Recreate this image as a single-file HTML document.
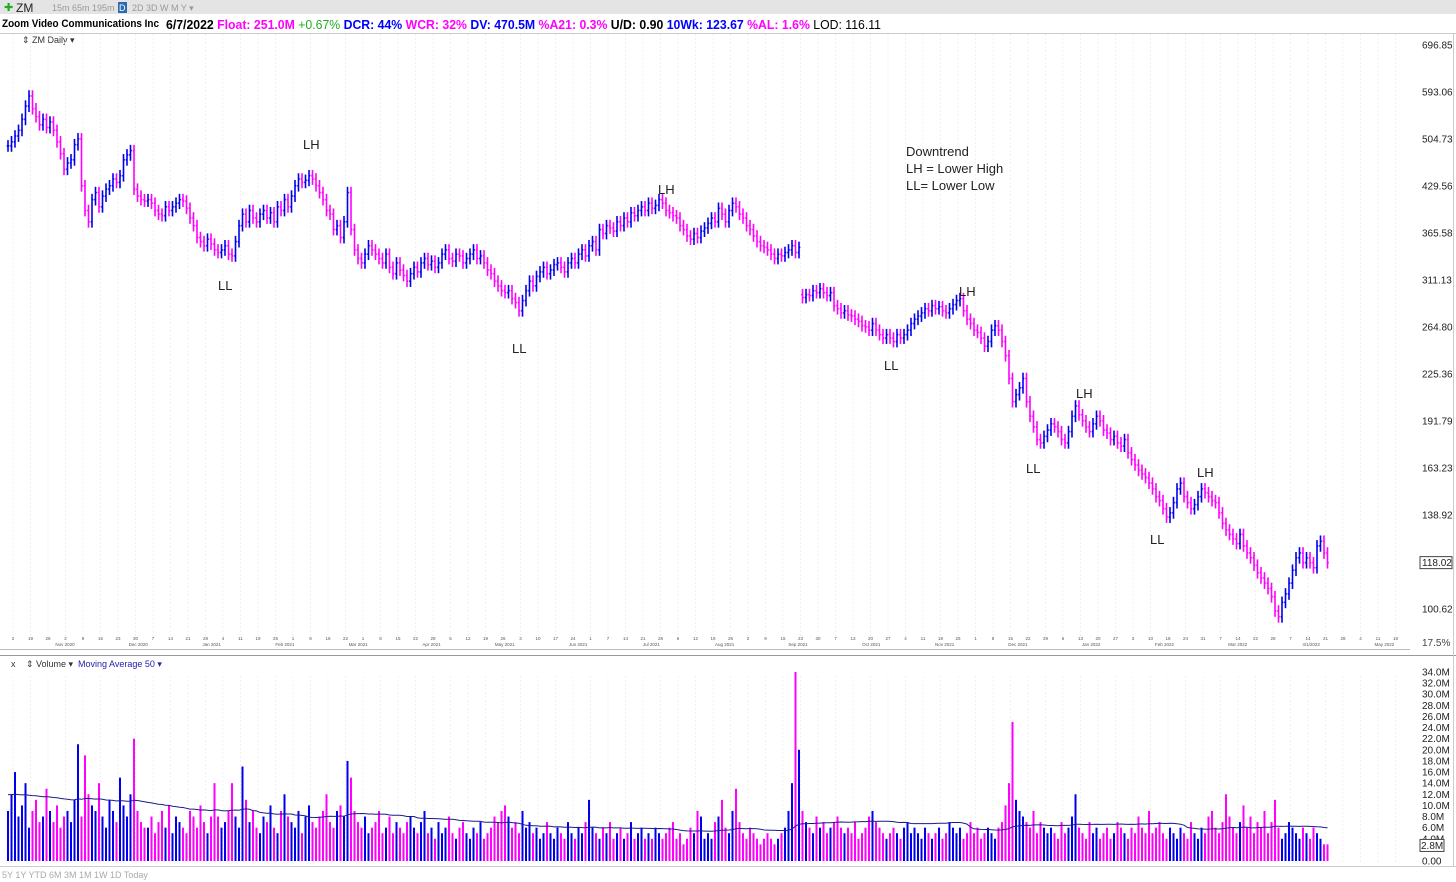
<!DOCTYPE html>
<html><head><meta charset="utf-8"><style>
body{margin:0;width:1456px;height:882px;overflow:hidden;background:#fff;font-family:"Liberation Sans",sans-serif}
svg{display:block}
</style></head><body>
<svg id="c" width="1456" height="882" xmlns="http://www.w3.org/2000/svg">
<rect x="0" y="0" width="1456" height="14" fill="#e4e4e4"/>
<text x="4" y="11" font-size="11" fill="#2a2">✚</text>
<text x="16" y="12" font-size="12" fill="#222">ZM</text>
<text x="52" y="11" font-size="9" fill="#999">15m  65m  195m</text>
<rect x="118" y="2" width="9" height="11" fill="#2b6cb0"/>
<text x="119" y="11" font-size="9" fill="#fff">D</text>
<text x="132" y="11" font-size="9" fill="#999">2D  3D  W  M  Y ▾</text>
<text x="2" y="27" font-size="11" font-weight="bold" fill="#000" textLength="157" lengthAdjust="spacingAndGlyphs">Zoom Video Communications Inc</text>
<text x="166" y="29" font-size="13" font-weight="bold" textLength="715" lengthAdjust="spacingAndGlyphs"><tspan fill="#000">6/7/2022 </tspan><tspan fill="#f0f">Float: 251.0M </tspan><tspan fill="#2a2" font-weight="normal">+0.67% </tspan><tspan fill="#00f">DCR: 44% </tspan><tspan fill="#f0f">WCR: 32% </tspan><tspan fill="#00f">DV: 470.5M </tspan><tspan fill="#f0f">%A21: 0.3% </tspan><tspan fill="#000">U/D: 0.90 </tspan><tspan fill="#00f">10Wk: 123.67 </tspan><tspan fill="#f0f">%AL: 1.6% </tspan><tspan fill="#000" font-weight="normal">LOD: 116.11</tspan></text>
<line x1="0" y1="33.5" x2="1456" y2="33.5" stroke="#ccc"/>
<text x="22" y="43" font-size="9" fill="#333">⇕ ZM Daily ▾</text>
<line x1="0" y1="655.5" x2="1456" y2="655.5" stroke="#999"/>
<text x="11" y="667" font-size="9" fill="#333">x</text>
<text x="26" y="667" font-size="9" fill="#333">⇕ Volume ▾</text>
<text x="78" y="667" font-size="9" fill="#22a">Moving Average 50 ▾</text>
<line x1="0" y1="866.5" x2="1456" y2="866.5" stroke="#ccc"/>
<text x="2" y="878" font-size="9" fill="#aaa">5Y   1Y   YTD   6M   3M   1M   1W   1D   Today</text>
<line x1="1453.5" y1="34" x2="1453.5" y2="866" stroke="#ccc"/>
<g id="grid"></g><g id="bars"></g><g id="vol"></g><g id="axes"></g>
<g font-size="13" fill="#222">
<text x="218" y="290">LL</text>
<text x="303" y="149">LH</text>
<text x="512" y="353">LL</text>
<text x="658" y="194">LH</text>
<text x="884" y="370">LL</text>
<text x="959" y="296">LH</text>
<text x="1026" y="473">LL</text>
<text x="1076" y="398">LH</text>
<text x="1150" y="544">LL</text>
<text x="1197" y="477">LH</text>
<text x="906" y="156">Downtrend</text>
<text x="906" y="173">LH = Lower High</text>
<text x="906" y="190">LL= Lower Low</text>
</g>
</svg>
<script>
const closes=[493,500,510,520,540,565,585,560,545,530,540,525,535,520,500,480,455,465,470,495,505,430,395,380,410,420,400,415,425,430,440,435,445,470,478,485,425,415,410,408,410,405,395,390,388,400,395,400,405,410,408,398,385,375,360,355,350,358,352,345,342,345,350,340,338,355,375,390,380,395,385,380,390,395,385,392,380,400,395,410,400,415,430,440,435,438,445,440,430,420,410,395,390,370,375,360,380,420,370,345,335,330,340,350,345,340,335,330,340,325,318,330,322,316,310,318,325,320,330,335,328,332,325,330,340,345,335,332,340,338,330,335,340,345,335,338,330,322,318,310,305,300,298,300,292,288,280,290,300,310,305,315,320,325,318,322,328,330,325,320,330,335,330,340,345,338,350,355,345,370,365,375,372,368,380,375,385,380,392,388,395,400,395,405,398,402,410,405,395,392,388,385,375,370,362,358,365,360,368,372,378,385,380,398,390,380,395,405,400,390,385,375,370,362,355,350,348,345,340,335,340,338,342,345,350,342,348,293,296,295,300,298,302,298,295,298,285,282,278,280,276,275,272,270,266,265,262,268,262,258,255,258,255,252,258,255,258,262,268,272,275,278,282,280,285,282,284,280,278,282,286,290,292,280,272,268,262,260,255,248,252,262,266,262,252,240,222,205,210,215,222,205,195,188,180,178,182,186,190,188,185,180,178,185,195,202,196,192,188,185,190,195,192,186,184,180,182,178,176,180,172,168,165,162,160,158,155,152,148,146,142,138,140,145,152,155,148,145,142,144,148,152,150,148,146,145,140,135,132,130,128,126,130,125,122,120,117,114,112,110,108,105,100,98,103,106,110,115,120,122,118,120,118,116,125,127,122,118];
const volumes=[9,12,16,8,10,14,6,9,11,7,8,13,9,7,10,6,8,9,7,11,21,8,19,12,10,9,14,8,6,11,9,7,15,10,8,12,22,9,7,6,6,8,5,7,9,6,10,5,8,7,6,5,9,8,6,10,7,5,8,14,8,6,7,9,14,8,6,17,11,7,9,6,5,8,7,10,6,5,9,12,8,7,6,9,5,8,10,7,6,8,9,12,7,6,9,10,8,18,15,9,7,6,8,5,6,7,9,5,6,8,5,7,6,5,7,8,6,5,7,9,5,6,4,7,5,6,8,5,4,6,7,5,4,6,5,7,4,5,6,8,7,9,10,8,6,7,5,9,6,7,5,6,4,5,7,5,4,6,5,4,7,5,4,6,5,7,11,6,5,4,6,5,7,4,5,6,4,5,7,4,5,6,4,5,4,6,5,4,5,6,7,4,5,3,4,6,5,9,8,4,5,4,7,8,11,6,5,9,13,7,5,4,6,5,4,3,4,5,4,3,4,5,6,9,14,34,20,9,7,6,5,8,6,7,5,6,7,8,6,5,6,5,7,4,5,6,8,9,7,6,5,4,5,6,5,4,6,7,5,6,5,4,6,5,4,5,6,4,5,7,6,5,6,4,5,7,5,6,4,5,6,5,4,6,7,10,14,25,11,9,8,7,6,9,5,7,6,5,6,5,4,7,5,6,8,12,6,5,4,7,5,6,4,5,6,4,5,7,6,5,4,6,5,8,6,5,9,5,6,7,5,4,6,5,4,6,5,4,7,5,4,6,5,8,9,6,5,7,12,8,6,5,7,10,6,8,5,7,6,9,5,7,11,6,4,5,7,6,5,4,6,5,4,6,5,4,3,3];
const gapDays=[227];
const priceTicks=[696.85,593.06,504.73,429.56,365.58,311.13,264.80,225.36,191.79,163.23,138.92,100.62];
const lastPrice=118.02;
const volTicks=[34,32,30,28,26,24,22,20,18,16,14,12,10,8,6,4,2,0];
const weekLabels=["2","19","26","2","9","16","23","30","7","14","21","28","4","11","19","25","1","8","16","22","1","8","15","22","29","5","12","19","26","3","10","17","24","1","7","14","21","28","6","12","19","26","2","9","16","23","30","7","13","20","27","4","11","18","25","1","8","15","22","29","6","13","20","27","3","10","18","24","31","7","14","22","28","7","14","21","28","4","11","18","25","2"];
const monthLabels=["Nov 2020","Dec 2020","Jan 2021","Feb 2021","Mar 2021","Apr 2021","May 2021","Jun 2021","Jul 2021","Aug 2021","Sep 2021","Oct 2021","Nov 2021","Dec 2021","Jan 2022","Feb 2022","Mar 2022","4/1/2022","May 2022"];
const priorVolAvg=12;

const NS="http://www.w3.org/2000/svg";
const X0=8,DX=3.5;
const xOf=i=>X0+DX*i;
const yP=p=>45+291.5*Math.log(696.85/p);
const yV=v=>861-v*(189/34);
function mk(tag,attrs,parent){const e=document.createElementNS(NS,tag);for(const k in attrs)e.setAttribute(k,attrs[k]);parent.appendChild(e);return e;}
const gGrid=document.getElementById('grid'),gBars=document.getElementById('bars'),gVol=document.getElementById('vol'),gAx=document.getElementById('axes');
for(let w=0;w<weekLabels.length;w++){
  const x=X0+5+w*17.5;
  if(x>1410)break;
  const l=mk('line',{x1:x,y1:34,x2:x,y2:636,stroke:'#f0f0f0','stroke-dasharray':'2,2'},gGrid);
  
  
  mk('line',{x1:x,y1:676,x2:x,y2:862,stroke:'#f0f0f0','stroke-dasharray':'2,2'},gGrid);
  const t=mk('text',{x:x,y:640,'font-size':4.5,fill:'#555','text-anchor':'middle'},gAx);
  t.textContent=weekLabels[w];
  
  
}
for(let m=0;m<monthLabels.length;m++){
  const x=65+m*73.3;
  const t=mk('text',{x:x,y:646,'font-size':4.5,fill:'#555','text-anchor':'middle'},gAx);
  t.textContent=monthLabels[m];
  
  
}
mk('line',{x1:0,y1:649.5,x2:1410,y2:649.5,stroke:'#bbb'},gAx);
for(let i=0;i<closes.length;i++){
  const c=closes[i];let o=i>0?closes[i-1]:c;
  if(gapDays.includes(i))o=c*1.01;
  const up=i===0||c>=closes[i-1];
  const col=up?'#0000ee':'#ff00ff';
  const hi=Math.max(o,c)*1.02,lo=Math.min(o,c)*0.98,x=xOf(i);
  const b=mk('g',{stroke:col,'stroke-width':1.6},gBars);
  
  
  mk('line',{x1:x,y1:yP(hi),x2:x,y2:yP(lo)},b);
  mk('line',{x1:x-1.3,y1:yP(o),x2:x,y2:yP(o)},b);
  mk('line',{x1:x,y1:yP(c),x2:x+1.3,y2:yP(c)},b);
}
for(let i=0;i<volumes.length;i++){
  const up=i===0||closes[i]>=closes[i-1];
  const r=mk('rect',{x:xOf(i)-1,y:yV(volumes[i]),width:2,height:861-yV(volumes[i]),fill:up?'#0000ee':'#ff00ff'},gVol);
  
  
}
let pts=[];
for(let i=0;i<volumes.length;i++){
  let s=0;for(let k=i-49;k<=i;k++)s+=k>=0?volumes[k]:priorVolAvg;
  pts.push(xOf(i).toFixed(1)+','+yV(s/50).toFixed(1));
}
const ma=mk('polyline',{points:pts.join(' '),fill:'none',stroke:'#1a1a8a','stroke-width':1},gVol);


for(const p of priceTicks){
  const t=mk('text',{x:1422,y:yP(p)+3.5,'font-size':10,fill:'#222'},gAx);
  t.textContent=p.toFixed(2);
  
  
}
const bx=mk('rect',{x:1420,y:yP(lastPrice)-6,width:32,height:12,fill:'#fff',stroke:'#444'},gAx);


const lt=mk('text',{x:1422,y:yP(lastPrice)+3.5,'font-size':10,fill:'#222'},gAx);
lt.textContent=lastPrice.toFixed(2);
const pc=mk('text',{x:1422,y:646,'font-size':10,fill:'#444'},gAx);pc.textContent='17.5%';
for(const v of volTicks){
  if(v===2)continue;
  const t=mk('text',{x:1422,y:yV(v)+3.5,'font-size':10,fill:'#222'},gAx);
  t.textContent=v===0?'0.00':v.toFixed(1)+'M';
  
  
}
const vb=mk('rect',{x:1420,y:yV(2.8)-6,width:24,height:12,fill:'#fff',stroke:'#444'},gAx);


const vt=mk('text',{x:1421,y:yV(2.8)+3.5,'font-size':10,fill:'#222'},gAx);vt.textContent='2.8M';
</script>
</body></html>
